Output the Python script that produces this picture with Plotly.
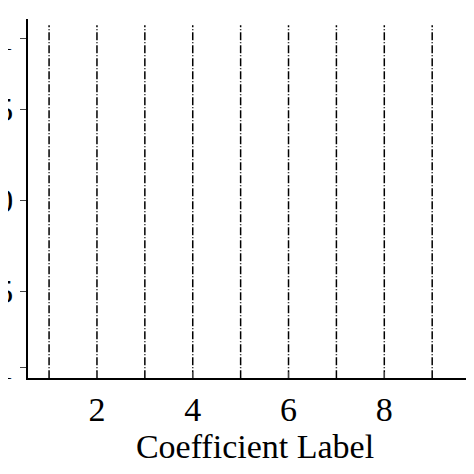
import plotly.graph_objects as go

coef_labels = [1, 2, 3, 4, 5, 6, 7, 8, 9, 10]
line_low = [-0.98] * 10
line_high = [0.96] * 10
y_tick_vals = [0.89, 0.5, 0.0, -0.5, -0.92]
y_tick_text = ["1", "5", "0", "5", "1"]
x_tick_vals = [2, 4, 6, 8, 10]

fig = go.Figure()
for c, lo, hi in zip(coef_labels, line_low, line_high):
    fig.add_trace(go.Scatter(x=[c, c], y=[lo, hi], mode="lines",
                             line=dict(color="black", width=1.5, dash="8px,2px,1px,2px"),
                             showlegend=False, hoverinfo="skip", cliponaxis=False))

fig.update_layout(
    width=474, height=474, plot_bgcolor="white", paper_bgcolor="white",
    margin=dict(l=20, r=0, t=11, b=104),
    font=dict(family="Liberation Serif", color="black", size=34),
    xaxis=dict(range=[0.56, 10.04], tickvals=x_tick_vals, showline=True,
               linecolor="black", linewidth=2, ticks="inside", ticklen=6,
               showgrid=False, zeroline=False, automargin=False,
               title=dict(text="Coefficient Label", font=dict(size=34), standoff=2)),
    yaxis=dict(range=[-0.978, 0.995], tickvals=y_tick_vals, ticktext=y_tick_text,
               showline=True, linecolor="black", linewidth=2, ticks="outside",
               ticklen=6, showgrid=False, zeroline=False, automargin=False),
)
fig.write_html("out.html")
